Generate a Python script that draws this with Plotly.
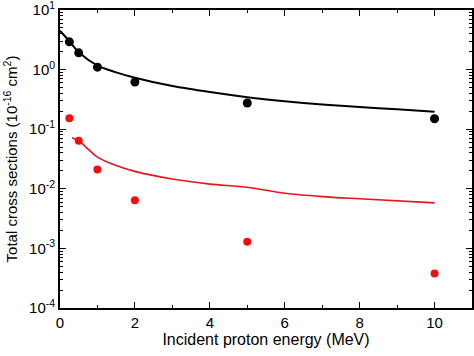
import plotly.graph_objects as go

energy_pts = [0.25, 0.5, 1, 2, 5, 10]
black_pts = [2.92, 1.91, 1.10, 0.62, 0.275, 0.150]
red_pts = [0.153, 0.064, 0.021, 0.0064, 0.00129, 0.00038]

black_line_x = [0.0, 0.25, 0.5, 1, 1.5, 2, 3, 4, 5, 6, 7, 8, 9, 10]
black_line_y = [4.5, 3.0, 1.95, 1.17, 0.9, 0.73, 0.53, 0.42, 0.345, 0.295, 0.26, 0.235, 0.216, 0.197]

red_line_x = [0.32, 0.5, 1, 1.5, 2, 3, 4, 5, 6, 7, 8, 10]
red_line_y = [0.072, 0.064, 0.034, 0.0245, 0.0196, 0.0146, 0.012, 0.0106, 0.0084, 0.0074, 0.0068, 0.0058]

y_tickvals = [10, 1, 0.1, 0.01, 0.001, 0.0001]
y_ticktext = ["10<sup>1</sup>", "10<sup>0</sup>", "10<sup>-1</sup>", "10<sup>-2</sup>", "10<sup>-3</sup>", "10<sup>-4</sup>"]
x_tickvals = [0, 2, 4, 6, 8, 10]

fig = go.Figure()
fig.add_trace(go.Scatter(x=black_line_x, y=black_line_y, mode="lines",
                         line=dict(color="black", width=2, shape="spline", smoothing=0.8),
                         showlegend=False))
fig.add_trace(go.Scatter(x=red_line_x, y=red_line_y, mode="lines",
                         line=dict(color="#e8141c", width=1.6, shape="spline", smoothing=0.8),
                         showlegend=False))
fig.add_trace(go.Scatter(x=energy_pts, y=black_pts, mode="markers",
                         marker=dict(color="black", size=9), showlegend=False))
fig.add_trace(go.Scatter(x=energy_pts, y=red_pts, mode="markers",
                         marker=dict(color="#f01010", size=8), showlegend=False))

font = dict(family="Liberation Sans, Arial, sans-serif", size=15, color="black")
fig.update_layout(
    width=474, height=356,
    margin=dict(l=60, r=2, t=10, b=48),
    paper_bgcolor="white", plot_bgcolor="white",
    font=font,
    xaxis=dict(range=[0, 11], tickvals=x_tickvals, ticks="inside", ticklen=6,
               tickwidth=1.3, tickcolor="black", automargin=False,
               showline=True, linecolor="black", linewidth=1.8, mirror="ticks",
               showgrid=False, zeroline=False, ticklabeloverflow="allow",
               minor=dict(ticks="inside", dtick=1, ticklen=3, tickcolor="black", showgrid=False),
               title=dict(text="Incident proton energy (MeV)", font=dict(size=16), standoff=4),
               tickfont=dict(size=15)),
    yaxis=dict(type="log", range=[-4, 1], tickvals=y_tickvals, ticktext=y_ticktext,
               ticks="inside", ticklen=6, tickwidth=1.3, tickcolor="black", automargin=False,
               showline=True, linecolor="black", linewidth=1.8, mirror="ticks",
               showgrid=False, zeroline=False, ticklabeloverflow="allow",
               minor=dict(ticks="inside", dtick="D1", ticklen=3, tickcolor="black", showgrid=False),
               title=dict(text="Total cross sections (10<sup>-16</sup> cm<sup>2</sup>)", font=dict(size=15), standoff=8),
               tickfont=dict(size=15)),
)

fig.write_html("out.html", config={"displayModeBar": False},
               post_script="document.body.style.margin='0';document.body.style.overflow='hidden';")
